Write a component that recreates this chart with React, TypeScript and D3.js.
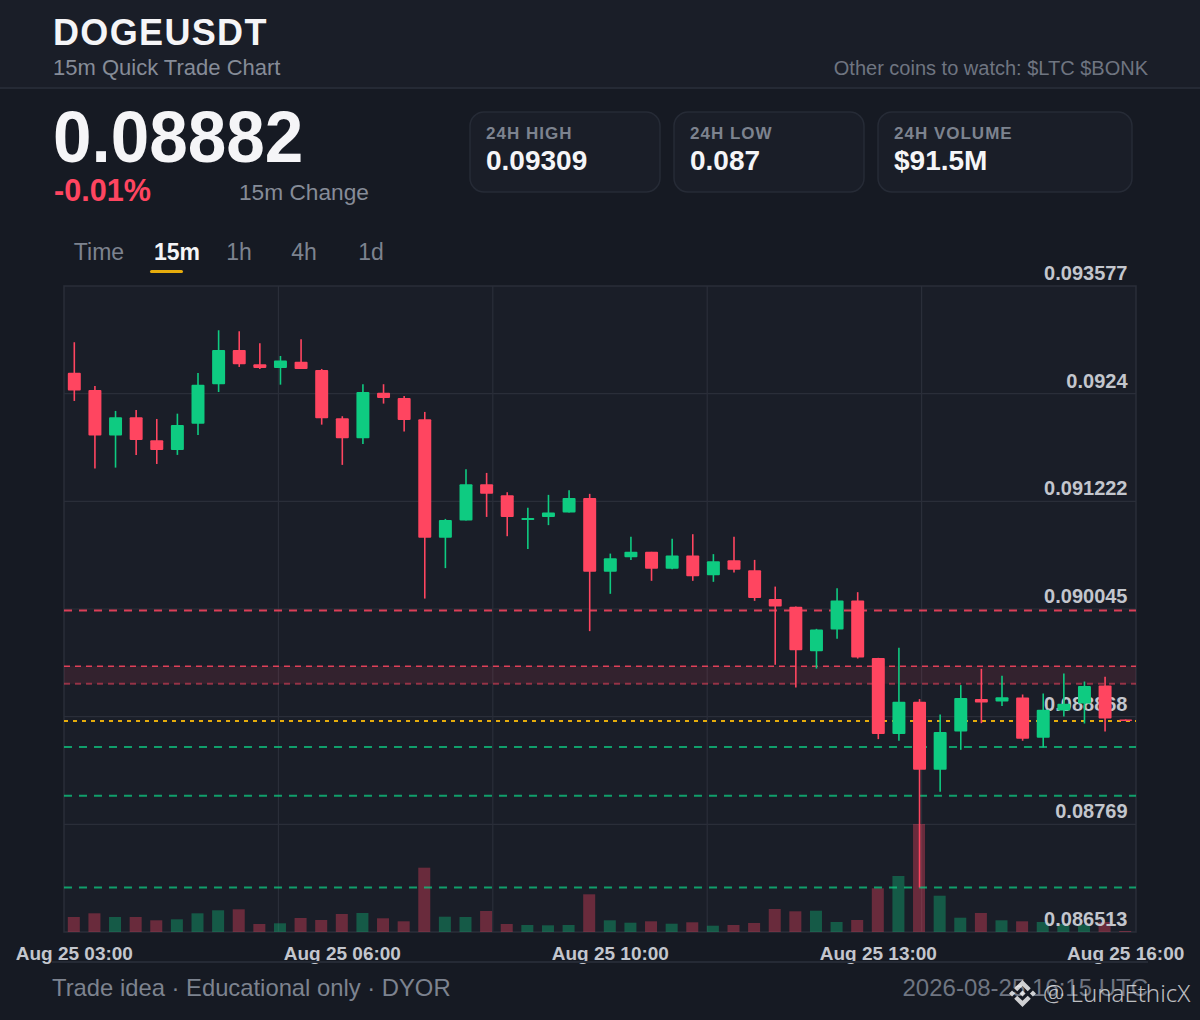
import React from 'react';
import * as d3 from 'd3';

const opens = [
  0.092629, 0.09244, 0.091941, 0.092142, 0.09189, 0.091784, 0.092072, 0.092503, 0.092877, 0.092721, 0.092681, 0.09275, 0.092659,
  0.092131, 0.091912, 0.092411, 0.092353, 0.09212, 0.090823, 0.091012, 0.09141, 0.091289, 0.091019, 0.091052, 0.091099, 0.09126,
  0.090451, 0.090612, 0.09067, 0.090484, 0.090629, 0.090415, 0.090579, 0.09047, 0.090153, 0.090069, 0.089584, 0.08982, 0.090137,
  0.089508, 0.088677, 0.08903, 0.088287, 0.088705, 0.08906, 0.089033, 0.089077, 0.088637, 0.088935, 0.089012, 0.089208, 0.088837,
];
const closes = [
  0.092433, 0.091941, 0.092142, 0.091894, 0.091784, 0.092058, 0.092498, 0.092877, 0.092721, 0.092681, 0.092761, 0.09267, 0.092131,
  0.091912, 0.092418, 0.092353, 0.092112, 0.090823, 0.091019, 0.09141, 0.091304, 0.091052, 0.091041, 0.091099, 0.09126, 0.090451,
  0.090601, 0.09067, 0.090484, 0.090629, 0.090404, 0.090568, 0.090473, 0.090164, 0.090072, 0.089595, 0.08982, 0.090137, 0.089514,
  0.088677, 0.08903, 0.088287, 0.088699, 0.089071, 0.089022, 0.089081, 0.088626, 0.088943, 0.089008, 0.089202, 0.088848, 0.08882,
];
const highs = [
  0.092962, 0.092484, 0.092211, 0.092222, 0.092123, 0.092181, 0.092626, 0.093093, 0.093082, 0.092951, 0.092812, 0.092994, 0.09267,
  0.092153, 0.092503, 0.092503, 0.092375, 0.0922, 0.09103, 0.091574, 0.091533, 0.091322, 0.091151, 0.091293, 0.091344, 0.091304,
  0.090651, 0.090834, 0.09067, 0.090812, 0.090863, 0.090645, 0.090834, 0.090582, 0.09029, 0.090072, 0.089828, 0.090273, 0.090229,
  0.089511, 0.08962, 0.08906, 0.088891, 0.089213, 0.089391, 0.089314, 0.08911, 0.089121, 0.089339, 0.089252, 0.089303, 0.088837,
];
const lows = [
  0.09232, 0.09158, 0.091591, 0.09173, 0.091631, 0.09173, 0.091948, 0.092418, 0.092692, 0.09267, 0.092498, 0.09267, 0.092061,
  0.091621, 0.09185, 0.092291, 0.091985, 0.090159, 0.090492, 0.091012, 0.091052, 0.090841, 0.090702, 0.090962, 0.091099, 0.089803,
  0.090211, 0.090582, 0.090353, 0.090481, 0.090353, 0.090342, 0.090443, 0.090134, 0.089435, 0.089186, 0.089394, 0.089719, 0.089503,
  0.088622, 0.088604, 0.087, 0.088046, 0.088505, 0.088797, 0.088983, 0.088604, 0.088531, 0.088869, 0.088793, 0.088705, 0.088819,
];
// relative volume
const volumes = [
  15, 18.7, 15, 15, 11.7, 12.7, 18.7, 21.7, 22.7, 8, 8.7, 14, 12, 18, 19, 13.7, 10.7, 64.3, 15.3, 15, 21, 8, 7, 6.7, 7, 37.7,
  11.7, 9.3, 10.7, 8.3, 9.7, 6.3, 7, 9, 23, 20.7, 21.3, 10, 12, 43.7, 56, 108, 36.3, 14.3, 19, 11.7, 10.7, 10, 8, 7.7, 10, 1,
];

const priceTicks = [0.093577, 0.0924, 0.091222, 0.090045, 0.088868, 0.08769, 0.086513];
const timeLabels = ['Aug 25 03:00', 'Aug 25 06:00', 'Aug 25 10:00', 'Aug 25 13:00', 'Aug 25 16:00'];
const timeLabelIndex = [0, 13, 26, 39, 51];
const redLevels = [0.090028];
const zone = [0.08942, 0.089227];
const lastPrice = 0.08882;
const greenLevels = [0.088535, 0.088003, 0.087];
const tabs = ['Time', '15m', '1h', '4h', '1d'];
const tabCenters = [99, 177, 239, 304, 371];
const stats = [
  { label: '24H HIGH', value: '0.09309', x0: 470, x1: 660 },
  { label: '24H LOW', value: '0.087', x0: 674, x1: 864 },
  { label: '24H VOLUME', value: '$91.5M', x0: 878, x1: 1132 },
];

const UP = '#0ecb81';
const DOWN = '#ff4560';
const GOLD = '#e6ac0c';
const GRID = '#2a2e39';
const FONT = '"Liberation Sans", Arial, sans-serif';
const LOGO =
  'm38.73 53.2 24.59-24.58 24.6 24.6 14.3-14.31L63.32 0 24.42 38.9zM0 63.31l14.3-14.31 14.31 14.31-14.31 14.3zM38.73 73.41 63.32 98l24.6-24.6 14.31 14.29-38.9 38.91-38.91-38.88zM98 63.31l14.3-14.31 14.31 14.3-14.31 14.32zM77.83 63.3 63.32 48.78 52.59 59.51l-1.24 1.23-2.54 2.54 14.51 14.5 14.51-14.47z';

const W = 1200;
const H = 1020;
const plot = { left: 64, right: 1136, top: 286, bottom: 932 };

export default function App() {
  const idx = d3.range(opens.length);
  const x = d3.scaleBand<number>().domain(idx).range([plot.left, plot.right]).paddingInner(0.37).paddingOuter(0.185);
  const xc = (i: number) => (x(i) as number) + x.bandwidth() / 2;
  const y = d3.scaleLinear().domain([0.086513, 0.093577]).range([plot.bottom, plot.top]);
  const yVol = d3.scaleLinear().domain([0, d3.max(volumes) as number]).range([plot.bottom, 824]);
  const xGrid = d3.scaleLinear().domain([0, 5]).range([plot.left, plot.right]);

  return (
    <svg
      width={W}
      height={H}
      viewBox={`0 0 ${W} ${H}`}
      style={{ position: 'absolute', left: 0, top: 0, display: 'block' }}
      fontFamily={FONT}
    >
      <rect width={W} height={H} fill="#161a23" />
      <rect width={W} height={88} fill="#1a1e28" />
      <line x1={0} x2={W} y1={88} y2={88} stroke="#252a35" strokeWidth={2} />

      <text x={53} y={45} fontSize={36} fontWeight={700} fill="#f5f5f7" letterSpacing={1.35}>DOGEUSDT</text>
      <text x={53} y={75} fontSize={22} fill="#868c98">15m Quick Trade Chart</text>
      <text x={1148} y={75} fontSize={20} fill="#6f7581" textAnchor="end">Other coins to watch: $LTC $BONK</text>

      <text transform="translate(53,162) scale(0.962,1)" fontSize={72} fontWeight={700} fill="#f5f5f7">0.08882</text>
      <text x={54} y={201} fontSize={30.6} fontWeight={700} fill={DOWN}>-0.01%</text>
      <text x={239} y={200} fontSize={22.7} fill="#868c98">15m Change</text>

      {stats.map((s) => (
        <g key={s.label}>
          <rect x={s.x0} y={112} width={s.x1 - s.x0} height={80} rx={14} fill="#1a1e28" stroke="#262b36" strokeWidth={1.5} />
          <text x={s.x0 + 16} y={139} fontSize={17} fontWeight={700} fill="#7d838f" letterSpacing={1}>{s.label}</text>
          <text x={s.x0 + 16} y={170} fontSize={28} fontWeight={700} fill="#f5f5f7">{s.value}</text>
        </g>
      ))}

      {tabs.map((t, i) => (
        <text
          key={t}
          x={tabCenters[i]}
          y={260}
          fontSize={23}
          textAnchor="middle"
          fontWeight={t === '15m' ? 700 : 400}
          fill={t === '15m' ? '#f5f5f7' : '#7d838f'}
        >
          {t}
        </text>
      ))}
      <rect x={150} y={270} width={33} height={3} rx={1.5} fill={GOLD} />

      <rect x={plot.left} y={plot.top} width={plot.right - plot.left} height={plot.bottom - plot.top} fill="#1a1e28" stroke={GRID} strokeWidth={1.5} />
      {priceTicks.slice(1, -1).map((p) => (
        <line key={p} x1={plot.left} x2={plot.right} y1={y(p)} y2={y(p)} stroke={GRID} strokeWidth={1.2} />
      ))}
      {d3.range(1, 5).map((k) => (
        <line key={k} x1={xGrid(k)} x2={xGrid(k)} y1={plot.top} y2={plot.bottom} stroke={GRID} strokeWidth={1.2} />
      ))}

      {idx.map((i) => (
        <rect
          key={i}
          x={x(i)}
          width={x.bandwidth() - 1}
          y={yVol(volumes[i])}
          height={plot.bottom - yVol(volumes[i])}
          fill={closes[i] >= opens[i] ? UP : DOWN}
          fillOpacity={0.35}
        />
      ))}

      {priceTicks.map((p) => (
        <text key={p} x={1127.5} y={y(p) - 6} fontSize={20} fontWeight={700} fill="#c3c6cd" textAnchor="end">
          {p}
        </text>
      ))}

      <rect
        x={plot.left}
        width={plot.right - plot.left}
        y={y(zone[0])}
        height={y(zone[1]) - y(zone[0])}
        fill={DOWN}
        fillOpacity={0.11}
      />
      <line x1={plot.left} x2={plot.right} y1={y(zone[0])} y2={y(zone[0])} stroke={DOWN} strokeOpacity={0.85} strokeWidth={1.5} strokeDasharray="6 5" />
      <line x1={plot.left} x2={plot.right} y1={y(zone[1])} y2={y(zone[1])} stroke={DOWN} strokeOpacity={0.5} strokeWidth={2} strokeDasharray="6 5" />
      {redLevels.map((p) => (
        <line key={p} x1={plot.left} x2={plot.right} y1={y(p)} y2={y(p)} stroke={DOWN} strokeOpacity={0.85} strokeWidth={2} strokeDasharray="8 7" />
      ))}
      {greenLevels.map((p) => (
        <line key={p} x1={plot.left} x2={plot.right} y1={y(p)} y2={y(p)} stroke={UP} strokeOpacity={0.75} strokeWidth={2} strokeDasharray="8 7" />
      ))}
      <line x1={plot.left} x2={plot.right} y1={y(lastPrice)} y2={y(lastPrice)} stroke={GOLD} strokeWidth={2} strokeDasharray="4 5" />

      {idx.map((i) => {
        const color = closes[i] >= opens[i] ? UP : DOWN;
        const top = y(Math.max(opens[i], closes[i]));
        const bottom = y(Math.min(opens[i], closes[i]));
        return (
          <g key={i}>
            <line x1={xc(i)} x2={xc(i)} y1={y(highs[i])} y2={y(lows[i])} stroke={color} strokeWidth={1.6} />
            <rect x={x(i)} width={x.bandwidth()} y={top} height={Math.max(bottom - top, 1.5)} rx={1} fill={color} />
          </g>
        );
      })}

      {timeLabels.map((t, i) => (
        <text key={t} x={xc(timeLabelIndex[i])} y={960} fontSize={19} fontWeight={700} fill="#c3c6cd" textAnchor="middle">
          {t}
        </text>
      ))}
      <line x1={52} x2={1148} y1={962} y2={962} stroke="#252a35" strokeWidth={2} />

      <text x={52} y={996} fontSize={23.8} fill="#7d838f">Trade idea · Educational only · DYOR</text>
      <text x={1148} y={996} fontSize={24} fill="#6f7581" textAnchor="end">2026-08-25 16:15 UTC</text>

      <path d={LOGO} transform="translate(1009,980) scale(0.213)" fill="#ffffff" fillOpacity={0.8} />
      <text x={1043} y={1002} fontSize={24} fontFamily='"Noto Sans", sans-serif' fontWeight={300} fill="#ffffff" fillOpacity={0.72}>
        @ LunaEthicX
      </text>
    </svg>
  );
}
